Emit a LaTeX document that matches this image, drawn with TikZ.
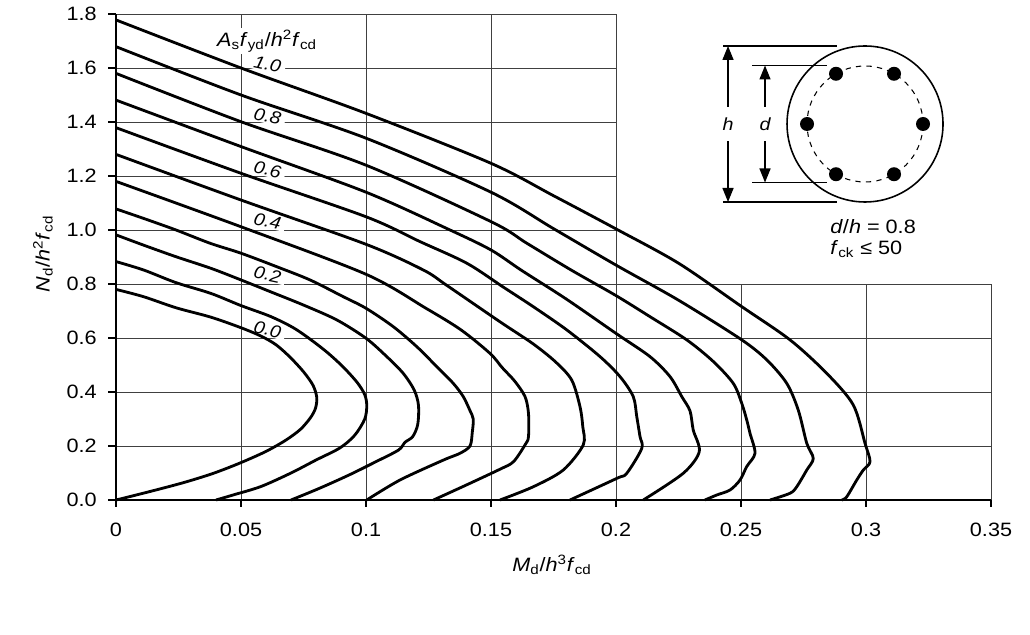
\documentclass[tikz,border=0pt]{standalone}
\usepackage{fontspec}
\setmainfont[FakeStretch=1.12]{Liberation Sans}
\usetikzlibrary{arrows.meta}

\tikzset{
	gridline/.style={black!75, line width=0.5pt},
	axisline/.style={black, line width=1.1pt},
	curve/.style={black, line width=1.6pt, line join=round},
	ratiolabel/.style={fill=white, inner xsep=2.5pt, inner ysep=0.5pt, font=\itshape, rotate=-12},
	dimline/.style={black, line width=0.8pt},
	dimarrow/.style={black, line width=0.8pt, {Triangle[length=2.8mm,width=2.2mm]}-{Triangle[length=2.8mm,width=2.2mm]}},
	dimlabel/.style={fill=white, inner xsep=1pt, inner ysep=6pt, font=\itshape},
}

\begin{document}
\begin{tikzpicture}[x=50cm, y=5.4cm, font=\fontsize{11}{13}\selectfont]
\useasboundingbox (-0.0464,-0.5) rectangle (0.3656,1.85185);
% grid
\foreach \x in {0.05,0.1,0.15,0.2}{
	\draw[gridline](\x,0)--(\x,1.8);
}
\foreach \x in {0.25,0.3,0.35}{
	\draw[gridline](\x,0)--(\x,0.8);
}
\foreach \y in {0.2,0.4,0.6,0.8}{
	\draw[gridline](0,\y)--(0.35,\y);
}
\foreach \y in {1.0,1.2,1.4,1.6,1.8}{
	\draw[gridline](0,\y)--(0.2,\y);
}
% axes and ticks
\draw[axisline](0,0)--(0.35,0);
\draw[axisline](0,0)--(0,1.8);
\foreach \y [count=\i] in {0.0,0.2,0.4,0.6,0.8,1.0,1.2,1.4,1.6,1.8}{
	\draw[axisline](0,\y)--(-0.0032,\y);
	\node[anchor=east, inner sep=0pt] (ytick\i) at (-0.0076,\y) {\y};
}
\foreach \x [count=\i] in {0,0.05,0.1,0.15,0.2,0.25,0.3,0.35}{
	\draw[axisline](\x,0)--(\x,-0.026);
	\node[inner sep=0pt] (xtick\i) at (\x,-0.111) {\x};
}
\node[rotate=90] (ylabel) at (-0.0292,0.911) {\textit{N}\textsubscript{d}/\textit{h}\textsuperscript{2}\textit{f}\textsubscript{cd}};
\node (xlabel) at (0.1744,-0.2407) {\textit{M}\textsubscript{d}/\textit{h}\textsuperscript{3}\textit{f}\textsubscript{cd}};
\node[fill=white, inner sep=1pt] (omega) at (0.0604,1.70) {\textit{A}\textsubscript{s}\textit{f}\textsubscript{yd}/\textit{h}\textsuperscript{2}\textit{f}\textsubscript{cd}};
% curve labels
\foreach \w/\y [count=\i] in {1.0/1.613, 0.8/1.421, 0.6/1.224, 0.4/1.033, 0.2/0.835, 0.0/0.631}{
	\node[ratiolabel] (w\i) at (0.0606,\y) {\w};
}
% interaction curves
\draw[curve] plot[smooth, tension=0.5] coordinates {(0,0.78) (0.011,0.753) (0.024,0.712) (0.038,0.677) (0.05,0.638) (0.058,0.607) (0.064,0.575) (0.0695,0.53) (0.075,0.475) (0.0788,0.425) (0.0803,0.38) (0.0798,0.34) (0.0778,0.305) (0.0738,0.262) (0.068,0.222) (0.06,0.18) (0.0496,0.137) (0.039,0.099) (0.028,0.067) (0.0176,0.041) (0.007,0.016) (0,0)};
\draw[curve] plot[smooth, tension=0.5] coordinates {(0,0.883) (0.011,0.852) (0.024,0.805) (0.038,0.765) (0.05,0.72) (0.062,0.679) (0.072,0.632) (0.083,0.558) (0.0905,0.496) (0.0965,0.435) (0.0995,0.39) (0.1003,0.35) (0.0995,0.3) (0.0955,0.24) (0.0896,0.193) (0.08,0.148) (0.07,0.1) (0.058,0.05) (0.047,0.019) (0.04,0)};
\draw[curve] plot[smooth, tension=0.5] coordinates {(0,0.982) (0.011,0.944) (0.024,0.901) (0.038,0.858) (0.05,0.815) (0.0616,0.772) (0.075,0.722) (0.0883,0.667) (0.1,0.599) (0.1083,0.531) (0.1149,0.469) (0.1193,0.407) (0.121,0.35) (0.1207,0.28) (0.1187,0.235) (0.1155,0.213) (0.113,0.185) (0.104,0.142) (0.0933,0.093) (0.0813,0.043) (0.07,0)};
\draw[curve] plot[smooth, tension=0.5] coordinates {(0,1.078) (0.011,1.043) (0.024,1.0) (0.0376,0.951) (0.05,0.914) (0.0643,0.864) (0.0776,0.815) (0.0909,0.753) (0.1,0.71) (0.1109,0.642) (0.1203,0.568) (0.1283,0.494) (0.1349,0.432) (0.1389,0.383) (0.1415,0.333) (0.1429,0.3) (0.1425,0.25) (0.1416,0.2) (0.1376,0.173) (0.131,0.148) (0.1136,0.074) (0.1003,0)};
\draw[curve] plot[smooth, tension=0.5] coordinates {(0,1.18) (0.05,1.012) (0.1,0.836) (0.124,0.71) (0.138,0.63) (0.1496,0.543) (0.1545,0.49) (0.1595,0.44) (0.1636,0.383) (0.165,0.321) (0.165,0.235) (0.1638,0.207) (0.159,0.142) (0.1536,0.114) (0.14,0.055) (0.127,0)};
\draw[curve] plot[smooth, tension=0.5] coordinates {(0,1.28) (0.05,1.111) (0.1,0.947) (0.1229,0.852) (0.1323,0.795) (0.1536,0.66) (0.1669,0.578) (0.176,0.51) (0.1823,0.444) (0.1856,0.346) (0.1867,0.272) (0.1869,0.204) (0.1789,0.111) (0.1669,0.049) (0.1536,0)};
\draw[curve] plot[smooth, tension=0.5] coordinates {(0,1.379) (0.05,1.21) (0.1,1.049) (0.1216,0.957) (0.1403,0.877) (0.155,0.788) (0.1669,0.716) (0.1803,0.63) (0.1936,0.531) (0.2016,0.457) (0.2069,0.383) (0.2083,0.309) (0.2096,0.235) (0.2103,0.191) (0.2043,0.099) (0.2003,0.08) (0.1816,0)};
\draw[curve] plot[smooth, tension=0.5] coordinates {(0,1.481) (0.05,1.309) (0.1,1.14) (0.1336,1.0) (0.15,0.926) (0.1623,0.85) (0.18,0.745) (0.2,0.617) (0.2136,0.531) (0.2216,0.457) (0.2263,0.383) (0.2296,0.33) (0.2309,0.259) (0.2333,0.179) (0.2269,0.099) (0.2109,0)};
\draw[curve] plot[smooth, tension=0.5] coordinates {(0,1.58) (0.05,1.401) (0.1,1.24) (0.15,1.031) (0.1643,0.951) (0.182,0.852) (0.2,0.757) (0.2136,0.679) (0.2283,0.593) (0.2389,0.513) (0.2469,0.432) (0.2503,0.358) (0.2523,0.296) (0.2536,0.247) (0.2556,0.173) (0.2523,0.124) (0.2496,0.074) (0.2456,0.037) (0.2403,0.0185) (0.2356,0)};
\draw[curve] plot[smooth, tension=0.5] coordinates {(0,1.679) (0.05,1.5) (0.1,1.34) (0.15,1.14) (0.175,1.005) (0.2,0.87) (0.225,0.74) (0.25,0.595) (0.2603,0.519) (0.2683,0.432) (0.2729,0.333) (0.2763,0.21) (0.2789,0.154) (0.2763,0.111) (0.2723,0.049) (0.2696,0.025) (0.2616,0)};
\draw[curve] plot[smooth, tension=0.5] coordinates {(0,1.778) (0.05,1.6) (0.1,1.432) (0.15,1.247) (0.175,1.127) (0.2,1.004) (0.225,0.877) (0.25,0.718) (0.2696,0.593) (0.2843,0.469) (0.2949,0.352) (0.2996,0.21) (0.3016,0.142) (0.2989,0.111) (0.2963,0.074) (0.2923,0.012) (0.2903,0)};
% column section
\begin{scope}[shift={(0.2996,1.3926)}, x=1cm, y=1cm]
\node[circle, draw, line width=0.9pt, minimum size=3.12cm, inner sep=0pt] (column) at (0,0) {};
\draw[dashed, line width=0.6pt] (column.center) circle[radius=1.16];
\foreach \a in {0,60,...,300}{
	\fill (\a:1.16) circle[radius=0.14];
}
\draw[dimline](-2.84,1.56)--(-0.56,1.56);
\draw[dimline](-2.84,-1.56)--(-0.56,-1.56);
\draw[dimline](-2.26,1.17)--(-0.76,1.17);
\draw[dimline](-2.26,-1.17)--(-0.76,-1.17);
\coordinate (htop) at (-2.74,1.56);
\coordinate (hbot) at (-2.74,-1.56);
\coordinate (dtop) at (-2.0,1.17);
\coordinate (dbot) at (-2.0,-1.17);
\draw[dimarrow](htop)--(hbot) node[dimlabel, midway] (hlabel) {h};
\draw[dimarrow](dtop)--(dbot) node[dimlabel, midway] (dlabel) {d};
\node[anchor=west, inner sep=0pt] (dhratio) at (-0.7,-2.06) {\textit{d}/\textit{h} = 0.8};
\node[anchor=west, inner sep=0pt] (fck) at (-0.7,-2.5) {\textit{f}\textsubscript{ck} ≤ 50};
\end{scope}
\end{tikzpicture}
\end{document}
